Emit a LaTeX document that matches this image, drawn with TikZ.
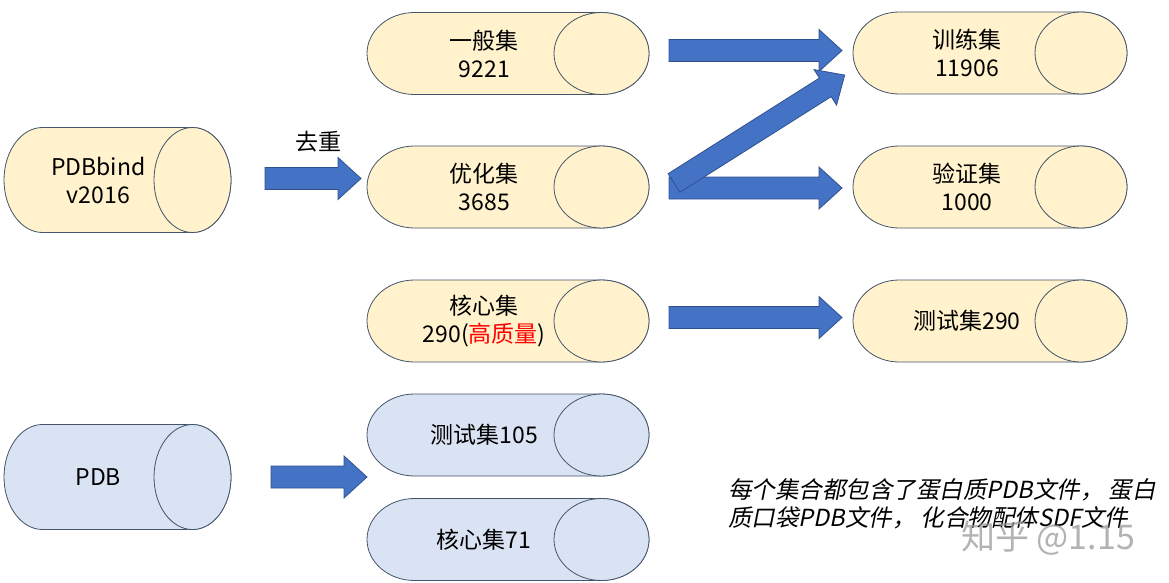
\documentclass[tikz,border=0pt]{standalone}
\usepackage{fontspec}
\setmainfont{Noto Sans CJK SC}
\newfontfamily\notefont[FakeSlant=0.2]{Noto Sans CJK SC}
\definecolor{gelb}{HTML}{FFF2CC}
\definecolor{hblau}{HTML}{DAE3F3}
\definecolor{rand}{HTML}{44546A}
\definecolor{pblau}{HTML}{4472C4}
\definecolor{pblaud}{HTML}{2F528F}
\definecolor{rot}{HTML}{FF0000}
\definecolor{wgrau}{HTML}{9A9A9A}
\tikzset{
  zylg/.style={fill=gelb,draw=rand,line width=0.8pt},
  zylb/.style={fill=hblau,draw=rand,line width=0.8pt},
  pfeil/.style={fill=pblau,draw=pblaud,line width=0.8pt},
  beschr/.style={font=\fontsize{23}{28}\selectfont,align=center,inner sep=0pt},
  notiz/.style={font=\notefont\fontsize{23.5}{28}\selectfont,align=left,inner sep=0pt,anchor=west},
}
% #1 style, #2 name, #3 left x, #4 right x, #5 centre y, #6/#7 radii, #8 text
\newcommand{\zyl}[8]{%
  \draw[#1] ({#3+#6},{#5+#7}) arc[start angle=90,end angle=270,x radius=#6,y radius=#7]
    -- ({#4-#6},{#5-#7}) arc[start angle=-90,end angle=90,x radius=#6,y radius=#7] -- cycle;
  \draw[#1] ({#4-#6},#5) ellipse[x radius=#6,y radius=#7];
  \node[beschr] (#2) at ({(#3+#4-#6)/2},#5) {#8};}
% #1 tail, #2 length, #3 angle
\newcommand{\pfeil}[3]{%
  \begin{scope}[shift={(#1)},rotate=#3]
    \draw[pfeil] (0,-11) -- ({#2-23},-11) -- ({#2-23},-21) -- (#2,0)
      -- ({#2-23},21) -- ({#2-23},11) -- (0,11) -- cycle;
  \end{scope}}
\begin{document}
\begin{tikzpicture}[x=1pt,y=-1pt]
  \useasboundingbox (0,0) rectangle (1169,583);
  \zyl{zylg}{pdbbind}{4}{231}{180}{38.5}{52.5}{PDBbind\\v2016}
  \zyl{zylg}{allg}{367}{649}{53.5}{47.5}{41}{一般集\\9221}
  \zyl{zylg}{opt}{367}{649}{187}{47.5}{41}{优化集\\3685}
  \zyl{zylg}{kern}{367}{649}{321}{47.5}{41}{核心集\\290(\textcolor{rot}{高质量})}
  \zyl{zylg}{train}{853}{1127}{53}{46}{41}{训练集\\11906}
  \zyl{zylg}{valid}{853}{1127}{187}{46}{41}{验证集\\1000}
  \zyl{zylg}{test}{853}{1127}{321}{46}{41}{测试集290}
  \zyl{zylb}{pdb}{4}{231}{477}{38.5}{52.5}{PDB}
  \zyl{zylb}{test105}{367}{649}{435}{47.5}{41}{测试集105}
  \zyl{zylb}{kern71}{367}{649}{539.5}{47.5}{41}{核心集71}
  \pfeil{265,178.5}{96}{0}
  \node[beschr] (dedup) at (318,142) {去重};
  \pfeil{669,50.5}{173}{0}
  \pfeil{669,188}{173}{0}
  \pfeil{674,183}{202}{32.3}
  \pfeil{669,317.5}{173}{0}
  \pfeil{271,477}{96}{0}
  \node[notiz] (note) at (728,504) {每个集合都包含了蛋白质PDB文件，\hspace{5pt}蛋白\\质口袋PDB文件，\hspace{5pt}化合物配体SDF文件};
  \node[font=\fontsize{34}{34}\selectfont,text=wgrau,opacity=0.75,inner sep=0pt] (wm) at (1048,538) {知乎 @1.15};
\end{tikzpicture}
\end{document}
